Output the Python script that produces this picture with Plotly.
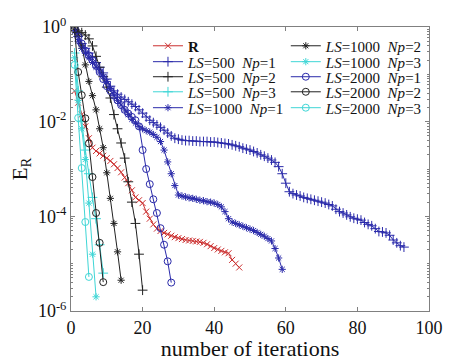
import numpy as np
import plotly.graph_objects as go

# log10(E_R), one value per iteration (1, 2, 3, ...)
R_log = [-1.35, -1.6, -1.85, -2.1, -2.35, -2.55, -2.62, -2.67, -2.72, -2.77,
         -2.83, -2.9, -2.98, -3.07, -3.18, -3.3, -3.45, -3.6, -3.66, -3.72,
         -3.9, -4.05, -4.17, -4.26, -4.31, -4.35, -4.38, -4.41, -4.44, -4.46,
         -4.48, -4.5, -4.51, -4.52, -4.53, -4.54, -4.56, -4.59, -4.63, -4.67,
         -4.7, -4.73, -4.76, -4.78, -4.92, -5.0, -5.08]

LS500_Np1_log = [-0.05, -0.2, -0.35, -0.45, -0.55, -0.65, -0.75, -0.85, -0.97, -1.1,
                 -1.25, -1.35, -1.42, -1.48, -1.53, -1.58, -1.63, -1.68, -1.75, -1.82,
                 -1.9, -1.97, -2.02, -2.07, -2.12, -2.18, -2.24, -2.3, -2.35, -2.37,
                 -2.39, -2.4, -2.4, -2.41, -2.41, -2.42, -2.42, -2.42, -2.43, -2.43,
                 -2.44, -2.45, -2.46, -2.47, -2.49, -2.51, -2.53, -2.56, -2.58, -2.6,
                 -2.63, -2.66, -2.7, -2.73, -2.77, -2.81, -2.86, -2.95, -3.1, -3.3,
                 -3.48, -3.52, -3.55, -3.57, -3.6, -3.62, -3.64, -3.66, -3.68, -3.7,
                 -3.72, -3.75, -3.78, -3.85, -3.9, -3.93, -3.97, -4.01, -4.04, -4.06,
                 -4.08, -4.13, -4.17, -4.2, -4.26, -4.32, -4.33, -4.35, -4.4, -4.5,
                 -4.56, -4.62, -4.65]

LS500_Np2_log = [-0.05, -0.08, -0.12, -0.17, -0.25, -0.4, -0.62, -0.85, -1.05, -1.27,
                 -1.5, -1.85, -2.15, -2.45, -2.77, -3.27, -3.7, -4.15, -4.8, -5.56]

LS500_Np3_log = [-0.55, -1.35, -2.0, -2.6, -3.1, -3.6, -4.05, -4.6, -5.2]

LS1000_Np1_log = [-0.1, -0.3, -0.45, -0.55, -0.65, -0.75, -0.85, -0.95, -1.05, -1.15,
                  -1.3, -1.45, -1.55, -1.65, -1.75, -1.85, -1.95, -2.03, -2.1, -2.15,
                  -2.19, -2.22, -2.27, -2.33, -2.42, -2.6, -2.85, -3.1, -3.35, -3.55,
                  -3.57, -3.59, -3.61, -3.62, -3.64, -3.66, -3.67, -3.69, -3.7, -3.72,
                  -3.75, -3.8, -3.9, -4.05, -4.12, -4.15, -4.18, -4.21, -4.24, -4.27,
                  -4.3, -4.34, -4.38, -4.42, -4.47, -4.52, -4.68, -4.88, -5.12]

LS1000_Np2_log = [-0.02, -0.15, -0.4, -0.8, -1.15, -1.45, -1.75, -2.15, -2.55, -3.08,
                  -3.62, -4.15, -4.75, -5.35]

LS1000_Np3_log = [-0.65, -1.55, -2.15, -2.8, -3.72, -4.8, -5.7]

LS2000_Np1_log = [-0.02, -0.2, -0.35, -0.5, -0.6, -0.7, -0.82, -0.95, -1.1, -1.25,
                  -1.35, -1.45, -1.55, -1.65, -1.75, -1.83, -1.9, -1.97, -2.1, -2.6,
                  -3.0, -3.32, -3.64, -3.93, -4.25, -4.6, -4.95, -5.4]

LS2000_Np2_log = [-0.05, -0.95, -1.44, -1.93, -2.46, -3.17, -3.93, -4.56, -5.39]

LS2000_Np3_log = [-0.8, -1.92, -2.98, -4.12, -5.28]

y_tick_vals = [1e-6, 1e-4, 1e-2, 1]
y_tick_text = ["10<sup>-6</sup>", "10<sup>-4</sup>", "10<sup>-2</sup>", "10<sup>0</sup>"]
x_tick_vals = [0, 20, 40, 60, 80, 100]

RED = "#cc3030"
BLUE = "#2a2aaa"
BLACK = "#222222"
CYAN = "#3fd6d6"
SP = "\u00a0\u00a0"

series = [
    ("<b>R</b>", R_log, RED, "x-thin-open", 6),
    (f"<i>LS</i>=500{SP}<i>Np</i>=1", LS500_Np1_log, BLUE, "cross-thin-open", 7),
    (f"<i>LS</i>=500{SP}<i>Np</i>=2", LS500_Np2_log, BLACK, "cross-thin-open", 7),
    (f"<i>LS</i>=500{SP}<i>Np</i>=3", LS500_Np3_log, CYAN, "cross-thin-open", 7),
    (f"<i>LS</i>=1000{SP}<i>Np</i>=1", LS1000_Np1_log, BLUE, "asterisk-open", 6),
    (f"<i>LS</i>=1000{SP}<i>Np</i>=2", LS1000_Np2_log, BLACK, "asterisk-open", 6),
    (f"<i>LS</i>=1000{SP}<i>Np</i>=3", LS1000_Np3_log, CYAN, "asterisk-open", 6),
    (f"<i>LS</i>=2000{SP}<i>Np</i>=1", LS2000_Np1_log, BLUE, "circle-open", 7),
    (f"<i>LS</i>=2000{SP}<i>Np</i>=2", LS2000_Np2_log, BLACK, "circle-open", 7),
    (f"<i>LS</i>=2000{SP}<i>Np</i>=3", LS2000_Np3_log, CYAN, "circle-open", 7),
]

FONT = "Liberation Serif"
fig = go.Figure()
legend_layouts = {}
col_x = [0.215, 0.60]
row_y = [0.933, 0.877, 0.824, 0.771, 0.715]
for i, (name, logs, color, sym, size) in enumerate(series):
    y = 10 ** np.array(logs)
    x = np.arange(1, len(logs) + 1)
    key = "legend" if i == 0 else f"legend{i + 1}"
    fig.add_trace(go.Scatter(
        x=x, y=y, mode="lines+markers", name=name, legend=key, showlegend=True,
        line=dict(color=color, width=1),
        marker=dict(symbol=sym, size=size, color=color, line=dict(color=color, width=1)),
    ))
    legend_layouts[key] = dict(
        x=col_x[i // 5], y=row_y[i % 5], xanchor="left", yanchor="middle",
        bgcolor="rgba(255,255,255,0)", font=dict(family=FONT, size=15, color="#111"),
        itemwidth=30, tracegroupgap=0, visible=True,
    )

axis_common = dict(
    showline=True, linecolor="#808080", linewidth=1, mirror="ticks",
    ticks="inside", ticklen=4, tickcolor="#808080", showgrid=False, zeroline=False,
    tickfont=dict(family=FONT, size=18, color="#111"), automargin=False,
)

# the page body has an 8px default margin, so the figure is sized to fit the window
fig.update_layout(
    width=466, height=353, showlegend=True,
    margin=dict(l=63, r=45, t=19, b=50, autoexpand=False),
    paper_bgcolor="white", plot_bgcolor="white",
    font=dict(family=FONT, color="#111"),
    xaxis=dict(range=[0, 100], tickvals=x_tick_vals,
               title=dict(text="number of iterations", font=dict(family=FONT, size=22), standoff=0),
               **axis_common),
    yaxis=dict(type="log", range=[-6, 0], tickvals=y_tick_vals, ticktext=y_tick_text,
               minor=dict(ticks="inside", ticklen=2, tickcolor="#808080", dtick="D1"),
               title=dict(text="E<sub>R</sub>", font=dict(family=FONT, size=21), standoff=6),
               **axis_common),
    **legend_layouts,
)

fig.write_html("out.html")
